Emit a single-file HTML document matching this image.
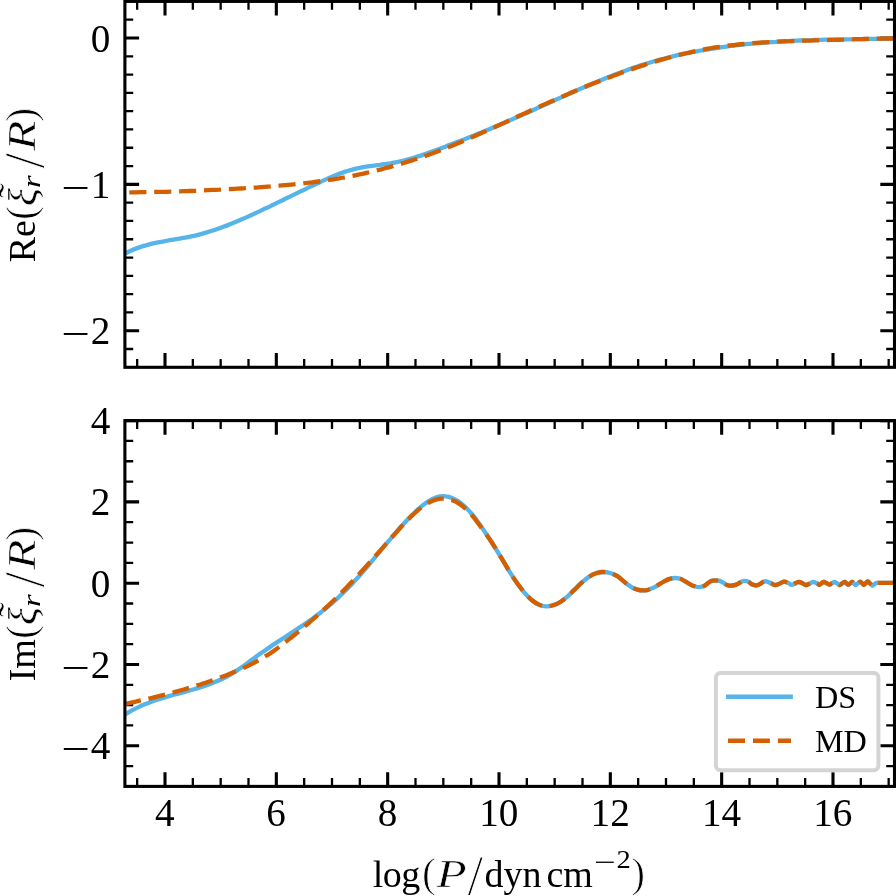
<!DOCTYPE html>
<html lang="en">
<head>
<meta charset="utf-8">
<title>Re and Im of radial displacement vs log pressure</title>
<style>
html,body{margin:0;padding:0;background:#fff;}
body{width:896px;height:896px;overflow:hidden;}
svg{display:block;}
</style>
</head>
<body>
<svg width="896" height="896" viewBox="0 0 896 896" font-family="'Liberation Serif', serif" fill="#000">
<rect x="0" y="0" width="896" height="896" fill="#fff"/>
<defs>
<clipPath id="c1"><rect x="124.9" y="1.4" width="769.6" height="365.90000000000003"/></clipPath>
<clipPath id="c2"><rect x="124.9" y="420.6" width="769.6" height="365.79999999999995"/></clipPath>
</defs>
<path d="M165.00,367.3v-14.2M165.00,1.4v14.2M276.33,367.3v-14.2M276.33,1.4v14.2M387.67,367.3v-14.2M387.67,1.4v14.2M499.00,367.3v-14.2M499.00,1.4v14.2M610.33,367.3v-14.2M610.33,1.4v14.2M721.67,367.3v-14.2M721.67,1.4v14.2M833.00,367.3v-14.2M833.00,1.4v14.2M124.9,37.99h14.2M894.5,37.99h-14.2M124.9,184.35h14.2M894.5,184.35h-14.2M124.9,330.71h14.2M894.5,330.71h-14.2" stroke="#000" stroke-width="3.1" fill="none"/>
<path d="M137.17,367.3v-8.3M137.17,1.4v8.3M192.83,367.3v-8.3M192.83,1.4v8.3M220.67,367.3v-8.3M220.67,1.4v8.3M248.50,367.3v-8.3M248.50,1.4v8.3M304.17,367.3v-8.3M304.17,1.4v8.3M332.00,367.3v-8.3M332.00,1.4v8.3M359.83,367.3v-8.3M359.83,1.4v8.3M415.50,367.3v-8.3M415.50,1.4v8.3M443.33,367.3v-8.3M443.33,1.4v8.3M471.17,367.3v-8.3M471.17,1.4v8.3M526.83,367.3v-8.3M526.83,1.4v8.3M554.67,367.3v-8.3M554.67,1.4v8.3M582.50,367.3v-8.3M582.50,1.4v8.3M638.17,367.3v-8.3M638.17,1.4v8.3M666.00,367.3v-8.3M666.00,1.4v8.3M693.83,367.3v-8.3M693.83,1.4v8.3M749.50,367.3v-8.3M749.50,1.4v8.3M777.33,367.3v-8.3M777.33,1.4v8.3M805.17,367.3v-8.3M805.17,1.4v8.3M860.83,367.3v-8.3M860.83,1.4v8.3M888.67,367.3v-8.3M888.67,1.4v8.3M124.9,349.00h8.3M894.5,349.00h-8.3M124.9,312.41h8.3M894.5,312.41h-8.3M124.9,294.12h8.3M894.5,294.12h-8.3M124.9,275.83h8.3M894.5,275.83h-8.3M124.9,257.53h8.3M894.5,257.53h-8.3M124.9,239.24h8.3M894.5,239.24h-8.3M124.9,220.94h8.3M894.5,220.94h-8.3M124.9,202.65h8.3M894.5,202.65h-8.3M124.9,166.06h8.3M894.5,166.06h-8.3M124.9,147.76h8.3M894.5,147.76h-8.3M124.9,129.47h8.3M894.5,129.47h-8.3M124.9,111.17h8.3M894.5,111.17h-8.3M124.9,92.88h8.3M894.5,92.88h-8.3M124.9,74.58h8.3M894.5,74.58h-8.3M124.9,56.29h8.3M894.5,56.29h-8.3M124.9,19.70h8.3M894.5,19.70h-8.3" stroke="#000" stroke-width="2.3" fill="none"/>
<path d="M165.00,786.4v-14.2M165.00,420.6v14.2M276.33,786.4v-14.2M276.33,420.6v14.2M387.67,786.4v-14.2M387.67,420.6v14.2M499.00,786.4v-14.2M499.00,420.6v14.2M610.33,786.4v-14.2M610.33,420.6v14.2M721.67,786.4v-14.2M721.67,420.6v14.2M833.00,786.4v-14.2M833.00,420.6v14.2M124.9,420.60h14.2M894.5,420.60h-14.2M124.9,501.89h14.2M894.5,501.89h-14.2M124.9,583.18h14.2M894.5,583.18h-14.2M124.9,664.47h14.2M894.5,664.47h-14.2M124.9,745.76h14.2M894.5,745.76h-14.2" stroke="#000" stroke-width="3.1" fill="none"/>
<path d="M137.17,786.4v-8.3M137.17,420.6v8.3M192.83,786.4v-8.3M192.83,420.6v8.3M220.67,786.4v-8.3M220.67,420.6v8.3M248.50,786.4v-8.3M248.50,420.6v8.3M304.17,786.4v-8.3M304.17,420.6v8.3M332.00,786.4v-8.3M332.00,420.6v8.3M359.83,786.4v-8.3M359.83,420.6v8.3M415.50,786.4v-8.3M415.50,420.6v8.3M443.33,786.4v-8.3M443.33,420.6v8.3M471.17,786.4v-8.3M471.17,420.6v8.3M526.83,786.4v-8.3M526.83,420.6v8.3M554.67,786.4v-8.3M554.67,420.6v8.3M582.50,786.4v-8.3M582.50,420.6v8.3M638.17,786.4v-8.3M638.17,420.6v8.3M666.00,786.4v-8.3M666.00,420.6v8.3M693.83,786.4v-8.3M693.83,420.6v8.3M749.50,786.4v-8.3M749.50,420.6v8.3M777.33,786.4v-8.3M777.33,420.6v8.3M805.17,786.4v-8.3M805.17,420.6v8.3M860.83,786.4v-8.3M860.83,420.6v8.3M888.67,786.4v-8.3M888.67,420.6v8.3M124.9,766.08h8.3M894.5,766.08h-8.3M124.9,725.43h8.3M894.5,725.43h-8.3M124.9,705.11h8.3M894.5,705.11h-8.3M124.9,684.79h8.3M894.5,684.79h-8.3M124.9,644.14h8.3M894.5,644.14h-8.3M124.9,623.82h8.3M894.5,623.82h-8.3M124.9,603.50h8.3M894.5,603.50h-8.3M124.9,562.86h8.3M894.5,562.86h-8.3M124.9,542.53h8.3M894.5,542.53h-8.3M124.9,522.21h8.3M894.5,522.21h-8.3M124.9,481.57h8.3M894.5,481.57h-8.3M124.9,461.24h8.3M894.5,461.24h-8.3M124.9,440.92h8.3M894.5,440.92h-8.3" stroke="#000" stroke-width="2.3" fill="none"/>
<g clip-path="url(#c1)" fill="none" stroke-width="4.3">
<path d="M122.0,255.2C123.0,254.7 126.0,253.0 128.0,252.0C130.0,251.0 132.0,250.2 134.0,249.3C136.0,248.5 138.0,247.8 140.0,247.1C142.0,246.4 144.0,245.8 146.0,245.3C148.0,244.7 150.0,244.2 152.0,243.7C154.0,243.2 156.0,242.8 158.0,242.4C160.0,242.0 162.0,241.6 164.0,241.3C166.0,240.9 168.0,240.6 170.0,240.2C172.0,239.9 174.0,239.6 176.0,239.2C178.0,238.9 180.0,238.6 182.0,238.2C184.0,237.8 186.0,237.5 188.0,237.1C190.0,236.7 192.0,236.2 194.0,235.8C196.0,235.3 198.0,234.8 200.0,234.3C202.0,233.8 204.0,233.2 206.0,232.6C208.0,232.0 210.0,231.4 212.0,230.7C214.0,230.1 216.0,229.4 218.0,228.7C220.0,228.0 222.0,227.3 224.0,226.5C226.0,225.8 228.0,225.0 230.0,224.2C232.0,223.4 234.0,222.6 236.0,221.8C238.0,220.9 240.0,220.1 242.0,219.2C244.0,218.4 246.0,217.5 248.0,216.6C250.0,215.7 252.0,214.8 254.0,213.9C256.0,212.9 258.0,212.0 260.0,211.1C262.0,210.1 264.0,209.2 266.0,208.2C268.0,207.3 270.0,206.3 272.0,205.3C274.0,204.4 276.0,203.4 278.0,202.4C280.0,201.5 282.0,200.5 284.0,199.5C286.0,198.5 288.0,197.6 290.0,196.6C292.0,195.6 294.0,194.6 296.0,193.6C298.0,192.7 300.0,191.7 302.0,190.7C304.0,189.8 306.0,188.8 308.0,187.8C310.0,186.9 312.0,185.9 314.0,185.0C316.0,184.0 318.0,183.1 320.0,182.2C322.0,181.2 324.0,180.3 326.0,179.4C328.0,178.5 330.0,177.6 332.0,176.8C334.0,175.9 336.0,175.1 338.0,174.3C340.0,173.5 342.0,172.8 344.0,172.1C346.0,171.4 348.0,170.8 350.0,170.2C352.0,169.6 354.0,169.1 356.0,168.6C358.0,168.2 360.0,167.8 362.0,167.4C364.0,167.0 366.0,166.7 368.0,166.4C370.0,166.1 372.0,165.8 374.0,165.6C376.0,165.3 378.0,165.0 380.0,164.8C382.0,164.5 384.0,164.2 386.0,164.0C388.0,163.7 390.0,163.4 392.0,163.0C394.0,162.7 396.0,162.3 398.0,161.9C400.0,161.5 402.0,161.0 404.0,160.5C406.0,160.0 408.0,159.5 410.0,158.9C412.0,158.3 414.0,157.7 416.0,157.1C418.0,156.4 420.0,155.8 422.0,155.1C424.0,154.4 426.0,153.7 428.0,153.0C430.0,152.3 432.0,151.6 434.0,150.9C436.0,150.1 438.0,149.4 440.0,148.7C442.0,147.9 444.0,147.2 446.0,146.4C448.0,145.7 450.0,144.9 452.0,144.1C454.0,143.4 456.0,142.6 458.0,141.8C460.0,141.0 462.0,140.2 464.0,139.5C466.0,138.7 468.0,137.9 470.0,137.1C472.0,136.3 474.0,135.5 476.0,134.6C478.0,133.8 480.0,133.0 482.0,132.2C484.0,131.4 486.0,130.5 488.0,129.7C490.0,128.9 492.0,128.0 494.0,127.2C496.0,126.3 498.0,125.5 500.0,124.6C502.0,123.8 504.0,122.9 506.0,122.0C508.0,121.2 510.0,120.3 512.0,119.4C514.0,118.6 516.0,117.7 518.0,116.8C520.0,115.9 522.0,115.0 524.0,114.1C526.0,113.2 528.0,112.4 530.0,111.5C532.0,110.6 534.0,109.7 536.0,108.8C538.0,107.9 540.0,106.9 542.0,106.0C544.0,105.1 546.0,104.2 548.0,103.3C550.0,102.4 552.0,101.5 554.0,100.6C556.0,99.7 558.0,98.8 560.0,97.9C562.0,97.0 564.0,96.1 566.0,95.2C568.0,94.3 570.0,93.4 572.0,92.5C574.0,91.6 576.0,90.8 578.0,89.9C580.0,89.0 582.0,88.1 584.0,87.3C586.0,86.4 588.0,85.6 590.0,84.7C592.0,83.9 594.0,83.0 596.0,82.2C598.0,81.3 600.0,80.5 602.0,79.7C604.0,78.9 606.0,78.1 608.0,77.3C610.0,76.5 612.0,75.7 614.0,74.9C616.0,74.2 618.0,73.4 620.0,72.7C622.0,71.9 624.0,71.2 626.0,70.5C628.0,69.7 630.0,69.0 632.0,68.3C634.0,67.6 636.0,67.0 638.0,66.3C640.0,65.7 642.0,65.0 644.0,64.4C646.0,63.8 648.0,63.1 650.0,62.5C652.0,62.0 654.0,61.4 656.0,60.8C658.0,60.2 660.0,59.7 662.0,59.2C664.0,58.6 666.0,58.1 668.0,57.6C670.0,57.1 672.0,56.6 674.0,56.1C676.0,55.7 678.0,55.2 680.0,54.7C682.0,54.3 684.0,53.9 686.0,53.4C688.0,53.0 690.0,52.6 692.0,52.2C694.0,51.8 696.0,51.4 698.0,51.0C700.0,50.7 702.0,50.3 704.0,50.0C706.0,49.6 708.0,49.3 710.0,49.0C712.0,48.6 714.0,48.3 716.0,48.0C718.0,47.7 720.0,47.4 722.0,47.1C724.0,46.9 726.0,46.6 728.0,46.3C730.0,46.1 732.0,45.8 734.0,45.6C736.0,45.3 738.0,45.1 740.0,44.9C742.0,44.7 744.0,44.4 746.0,44.2C748.0,44.0 750.0,43.8 752.0,43.6C754.0,43.5 756.0,43.3 758.0,43.1C760.0,42.9 762.0,42.8 764.0,42.6C766.0,42.5 768.0,42.3 770.0,42.2C772.0,42.0 774.0,41.9 776.0,41.8C778.0,41.6 780.0,41.5 782.0,41.4C784.0,41.3 786.0,41.2 788.0,41.1C790.0,41.0 792.0,40.9 794.0,40.8C796.0,40.7 798.0,40.6 800.0,40.5C802.0,40.4 804.0,40.4 806.0,40.3C808.0,40.2 810.0,40.1 812.0,40.1C814.0,40.0 816.0,40.0 818.0,39.9C820.0,39.8 822.0,39.8 824.0,39.7C826.0,39.7 828.0,39.6 830.0,39.6C832.0,39.6 834.0,39.5 836.0,39.5C838.0,39.4 840.0,39.4 842.0,39.4C844.0,39.3 846.0,39.3 848.0,39.3C850.0,39.2 852.0,39.2 854.0,39.2C856.0,39.1 858.0,39.1 860.0,39.1C862.0,39.1 864.0,39.0 866.0,39.0C868.0,39.0 870.0,39.0 872.0,38.9C874.0,38.9 876.0,38.9 878.0,38.8C880.0,38.8 882.0,38.8 884.0,38.8C886.0,38.7 888.0,38.7 890.0,38.7C892.0,38.6 895.0,38.6 896.0,38.6" stroke="#56B4E9"/>
<path d="M129.3,192.3C130.3,192.3 133.3,192.3 135.3,192.3C137.3,192.2 139.3,192.2 141.3,192.2C143.3,192.2 145.3,192.1 147.3,192.1C149.3,192.1 151.3,192.1 153.3,192.0C155.3,192.0 157.3,191.9 159.3,191.9C161.3,191.8 163.3,191.8 165.3,191.8C167.3,191.7 169.3,191.6 171.3,191.6C173.3,191.5 175.3,191.5 177.3,191.4C179.3,191.3 181.3,191.3 183.3,191.2C185.3,191.1 187.3,191.1 189.3,191.0C191.3,190.9 193.3,190.8 195.3,190.8C197.3,190.7 199.3,190.6 201.3,190.5C203.3,190.4 205.3,190.3 207.3,190.2C209.3,190.1 211.3,190.0 213.3,189.9C215.3,189.9 217.3,189.8 219.3,189.7C221.3,189.5 223.3,189.4 225.3,189.3C227.3,189.2 229.3,189.1 231.3,189.0C233.3,188.9 235.3,188.8 237.3,188.7C239.3,188.6 241.3,188.4 243.3,188.3C245.3,188.2 247.3,188.1 249.3,187.9C251.3,187.8 253.3,187.7 255.3,187.6C257.3,187.4 259.3,187.3 261.3,187.1C263.3,187.0 265.3,186.9 267.3,186.7C269.3,186.6 271.3,186.4 273.3,186.2C275.3,186.1 277.3,185.9 279.3,185.7C281.3,185.6 283.3,185.4 285.3,185.2C287.3,185.0 289.3,184.8 291.3,184.6C293.3,184.4 295.3,184.2 297.3,184.0C299.3,183.8 301.3,183.6 303.3,183.4C305.3,183.1 307.3,182.9 309.3,182.7C311.3,182.4 313.3,182.2 315.3,181.9C317.3,181.6 319.3,181.4 321.3,181.1C323.3,180.8 325.3,180.5 327.3,180.2C329.3,179.9 331.3,179.6 333.3,179.3C335.3,178.9 337.3,178.6 339.3,178.3C341.3,177.9 343.3,177.6 345.3,177.2C347.3,176.8 349.3,176.4 351.3,176.1C353.3,175.7 355.3,175.3 357.3,174.8C359.3,174.4 361.3,174.0 363.3,173.6C365.3,173.1 367.3,172.7 369.3,172.2C371.3,171.7 373.3,171.3 375.3,170.8C377.3,170.3 379.3,169.8 381.3,169.3C383.3,168.8 385.3,168.2 387.3,167.7C389.3,167.2 391.3,166.6 393.3,166.1C395.3,165.5 397.3,164.9 399.3,164.3C401.3,163.7 403.3,163.1 405.3,162.5C407.3,161.9 409.3,161.3 411.3,160.6C413.3,160.0 415.3,159.4 417.3,158.7C419.3,158.0 421.3,157.3 423.3,156.6C425.3,155.9 427.3,155.2 429.3,154.5C431.3,153.8 433.3,153.1 435.3,152.3C437.3,151.6 439.3,150.8 441.3,150.0C443.3,149.2 445.3,148.5 447.3,147.7C449.3,146.9 451.3,146.0 453.3,145.2C455.3,144.4 457.3,143.6 459.3,142.7C461.3,141.9 463.3,141.0 465.3,140.2C467.3,139.3 469.3,138.5 471.3,137.6C473.3,136.7 475.3,135.8 477.3,135.0C479.3,134.1 481.3,133.2 483.3,132.3C485.3,131.4 487.3,130.5 489.3,129.6C491.3,128.7 493.3,127.8 495.3,126.8C497.3,125.9 499.3,125.0 501.3,124.1C503.3,123.2 505.3,122.3 507.3,121.3C509.3,120.4 511.3,119.5 513.3,118.6C515.3,117.7 517.3,116.7 519.3,115.8C521.3,114.9 523.3,114.0 525.3,113.1C527.3,112.2 529.3,111.2 531.3,110.3C533.3,109.4 535.3,108.5 537.3,107.6C539.3,106.7 541.3,105.8 543.3,104.9C545.3,104.0 547.3,103.1 549.3,102.2C551.3,101.3 553.3,100.5 555.3,99.6C557.3,98.7 559.3,97.8 561.3,97.0C563.3,96.1 565.3,95.2 567.3,94.4C569.3,93.5 571.3,92.6 573.3,91.8C575.3,91.0 577.3,90.1 579.3,89.3C581.3,88.4 583.3,87.6 585.3,86.8C587.3,86.0 589.3,85.2 591.3,84.3C593.3,83.5 595.3,82.7 597.3,81.9C599.3,81.1 601.3,80.4 603.3,79.6C605.3,78.8 607.3,78.0 609.3,77.3C611.3,76.5 613.3,75.8 615.3,75.0C617.3,74.3 619.3,73.5 621.3,72.8C623.3,72.1 625.3,71.4 627.3,70.7C629.3,70.0 631.3,69.3 633.3,68.6C635.3,67.9 637.3,67.2 639.3,66.6C641.3,65.9 643.3,65.3 645.3,64.6C647.3,64.0 649.3,63.3 651.3,62.7C653.3,62.1 655.3,61.5 657.3,60.9C659.3,60.3 661.3,59.7 663.3,59.2C665.3,58.6 667.3,58.0 669.3,57.5C671.3,56.9 673.3,56.4 675.3,55.9C677.3,55.4 679.3,54.9 681.3,54.4C683.3,53.9 685.3,53.4 687.3,53.0C689.3,52.5 691.3,52.1 693.3,51.6C695.3,51.2 697.3,50.8 699.3,50.4C701.3,50.0 703.3,49.6 705.3,49.2C707.3,48.8 709.3,48.5 711.3,48.2C713.3,47.8 715.3,47.5 717.3,47.2C719.3,46.9 721.3,46.6 723.3,46.3C725.3,46.0 727.3,45.8 729.3,45.5C731.3,45.3 733.3,45.0 735.3,44.8C737.3,44.6 739.3,44.4 741.3,44.2C743.3,44.0 745.3,43.8 747.3,43.6C749.3,43.4 751.3,43.3 753.3,43.1C755.3,43.0 757.3,42.8 759.3,42.7C761.3,42.6 763.3,42.4 765.3,42.3C767.3,42.2 769.3,42.1 771.3,42.0C773.3,41.9 775.3,41.8 777.3,41.7C779.3,41.6 781.3,41.5 783.3,41.4C785.3,41.3 787.3,41.2 789.3,41.2C791.3,41.1 793.3,41.0 795.3,41.0C797.3,40.9 799.3,40.8 801.3,40.8C803.3,40.7 805.3,40.7 807.3,40.6C809.3,40.6 811.3,40.5 813.3,40.4C815.3,40.4 817.3,40.3 819.3,40.3C821.3,40.2 823.3,40.2 825.3,40.1C827.3,40.1 829.3,40.0 831.3,39.9C833.3,39.9 835.3,39.8 837.3,39.8C839.3,39.7 841.3,39.6 843.3,39.6C845.3,39.5 847.3,39.5 849.3,39.4C851.3,39.3 853.3,39.3 855.3,39.2C857.3,39.2 859.3,39.1 861.3,39.1C863.3,39.0 865.3,39.0 867.3,38.9C869.3,38.9 871.3,38.8 873.3,38.8C875.3,38.7 877.3,38.7 879.3,38.6C881.3,38.6 883.3,38.6 885.3,38.6C887.3,38.5 889.5,38.5 891.3,38.5C893.1,38.5 895.2,38.4 896.0,38.4" stroke="#D35F00" stroke-dasharray="17.1 7.8"/>
</g>
<g clip-path="url(#c2)" fill="none" stroke-width="4.3">
<path d="M122.0,716.5C123.0,715.9 126.0,713.9 128.0,712.7C130.0,711.5 132.0,710.4 134.0,709.4C136.0,708.3 138.0,707.4 140.0,706.4C142.0,705.5 144.0,704.7 146.0,703.8C148.0,703.0 150.0,702.3 152.0,701.5C154.0,700.8 156.0,700.1 158.0,699.5C160.0,698.8 162.0,698.2 164.0,697.6C166.0,697.0 168.0,696.5 170.0,695.9C172.0,695.3 174.0,694.8 176.0,694.2C178.0,693.7 180.0,693.2 182.0,692.6C184.0,692.1 186.0,691.6 188.0,691.0C190.0,690.5 192.0,689.9 194.0,689.3C196.0,688.7 198.0,688.1 200.0,687.5C202.0,686.9 204.0,686.2 206.0,685.5C208.0,684.8 210.0,684.1 212.0,683.3C214.0,682.5 216.0,681.7 218.0,680.8C220.0,679.9 222.0,679.0 224.0,678.0C226.0,677.0 228.0,675.9 230.0,674.8C232.0,673.6 234.0,672.4 236.0,671.1C238.0,669.8 240.0,668.4 242.0,667.0C244.0,665.6 246.0,664.1 248.0,662.6C250.0,661.1 252.0,659.6 254.0,658.2C256.0,656.7 258.0,655.2 260.0,653.8C262.0,652.4 264.0,651.0 266.0,649.7C268.0,648.3 270.0,646.9 272.0,645.6C274.0,644.2 276.0,642.9 278.0,641.6C280.0,640.3 282.0,639.0 284.0,637.7C286.0,636.4 288.0,635.1 290.0,633.8C292.0,632.5 294.0,631.2 296.0,629.9C298.0,628.5 300.0,627.2 302.0,625.9C304.0,624.5 306.0,623.1 308.0,621.8C310.0,620.4 312.0,618.9 314.0,617.5C316.0,616.0 318.0,614.5 320.0,613.0C322.0,611.4 324.0,609.9 326.0,608.2C328.0,606.6 330.0,604.9 332.0,603.2C334.0,601.4 336.0,599.6 338.0,597.8C340.0,595.9 342.0,594.0 344.0,592.0C346.0,590.1 348.0,588.0 350.0,586.0C352.0,583.9 354.0,581.7 356.0,579.6C358.0,577.4 360.0,575.1 362.0,572.8C364.0,570.5 366.0,568.2 368.0,565.8C370.0,563.5 372.0,561.1 374.0,558.7C376.0,556.3 378.0,553.9 380.0,551.4C382.0,549.0 384.0,546.6 386.0,544.2C388.0,541.8 390.0,539.4 392.0,537.1C394.0,534.7 396.0,532.4 398.0,530.1C400.0,527.9 402.0,525.6 404.0,523.4C406.0,521.3 408.0,519.1 410.0,517.1C412.0,515.1 414.0,513.1 416.0,511.2C418.0,509.4 420.0,507.6 422.0,505.9C424.0,504.3 426.0,502.8 428.0,501.5C430.0,500.2 432.0,499.1 434.0,498.3C436.0,497.4 438.0,496.7 440.0,496.4C442.0,496.1 444.0,496.0 446.0,496.3C448.0,496.5 450.0,497.1 452.0,497.9C454.0,498.7 456.0,499.8 458.0,501.1C460.0,502.4 462.0,504.0 464.0,505.8C466.0,507.6 468.0,509.7 470.0,511.9C472.0,514.2 472.5,514.4 476.0,519.3C479.5,524.1 486.3,534.0 491.0,541.2C495.7,548.4 500.8,557.0 504.0,562.3C507.2,567.6 508.1,569.3 510.3,572.9C512.5,576.5 515.0,580.3 517.4,583.6C519.8,586.9 522.2,590.2 524.6,592.9C527.0,595.6 529.3,598.0 531.7,600.0C534.1,602.0 536.5,603.5 538.9,604.6C541.3,605.7 543.6,606.3 546.0,606.4C548.4,606.5 550.7,606.0 553.1,605.3C555.5,604.6 557.9,603.5 560.3,602.0C562.7,600.5 565.0,598.7 567.4,596.6C569.8,594.5 572.2,591.9 574.6,589.6C577.0,587.3 579.3,584.7 581.7,582.6C584.1,580.5 586.5,578.5 588.9,576.9C591.3,575.3 593.6,574.1 596.0,573.3C598.4,572.5 600.7,572.0 603.1,572.0C605.5,572.0 607.9,572.3 610.3,573.0C612.7,573.7 615.5,575.1 617.4,576.2C619.2,577.3 619.8,578.1 621.4,579.4C623.0,580.6 624.9,582.4 626.7,583.7C628.5,585.1 630.3,586.5 632.1,587.5C633.9,588.5 635.6,589.1 637.4,589.6C639.2,590.1 641.0,590.4 642.8,590.4C644.6,590.4 646.3,590.2 648.1,589.8C649.9,589.3 651.7,588.6 653.5,587.7C655.3,586.8 657.1,585.6 658.9,584.5C660.7,583.4 662.4,582.2 664.2,581.3C666.0,580.4 667.8,579.4 669.6,578.9C671.4,578.4 673.1,578.0 674.9,578.0C676.7,578.0 678.5,578.2 680.3,578.8C682.1,579.4 683.8,580.6 685.6,581.6C687.4,582.6 689.2,583.9 691.0,584.8C692.8,585.7 695.0,586.4 696.4,586.8C697.8,587.2 698.4,587.2 699.6,587.1C700.9,587.0 702.5,586.7 703.9,586.1C705.3,585.5 706.6,584.2 707.8,583.3C709.0,582.4 709.8,581.4 711.1,580.9C712.4,580.4 714.0,580.4 715.4,580.4C716.8,580.4 718.4,580.5 719.7,580.9C721.0,581.3 722.1,582.0 723.3,582.7C724.5,583.4 725.6,584.4 726.9,584.9C728.2,585.4 729.7,585.7 731.1,585.7C732.5,585.7 734.1,585.3 735.4,584.9C736.7,584.5 737.9,583.7 739.0,583.1C740.1,582.5 740.9,581.8 741.9,581.4C742.9,581.0 744.0,580.9 745.1,580.9C746.2,580.9 747.3,581.1 748.3,581.6C749.3,582.1 750.1,583.2 751.1,583.8C752.1,584.4 753.1,584.7 754.0,585.0C754.9,585.3 755.5,585.5 756.5,585.4C757.5,585.2 758.6,584.7 759.7,584.1C760.8,583.5 761.9,582.5 763.0,582.0C764.1,581.5 765.1,581.1 766.4,581.3C767.7,581.5 769.3,582.5 770.7,583.1C772.1,583.7 773.6,584.9 775.0,585.0C776.4,585.1 777.8,584.3 779.3,583.8C780.8,583.2 782.5,581.9 783.9,581.7C785.3,581.5 786.6,582.2 787.9,582.7C789.2,583.2 790.5,584.8 791.8,584.9C793.1,585.0 794.5,583.6 795.7,583.1C796.9,582.6 797.7,582.0 798.9,582.0C800.1,582.0 801.7,582.9 802.9,583.4C804.1,583.9 804.9,585.0 806.1,585.0C807.3,585.0 808.8,583.9 810.0,583.4C811.2,582.9 812.0,582.0 813.2,582.0C814.4,582.0 816.1,582.9 817.1,583.4C818.1,583.9 818.7,585.0 819.5,584.9C820.3,584.8 821.4,583.3 822.1,582.8C822.8,582.3 823.1,581.9 823.9,582.0C824.7,582.1 825.8,582.9 826.8,583.3C827.8,583.7 828.7,584.5 829.6,584.5C830.5,584.5 831.2,583.6 832.0,583.2C832.8,582.8 833.5,582.0 834.3,582.0C835.1,582.0 836.1,582.9 837.0,583.4C837.9,583.9 838.7,585.0 839.6,585.0C840.5,585.0 841.4,583.9 842.2,583.4C843.0,582.9 843.9,582.0 844.6,582.0C845.3,582.0 845.8,582.8 846.4,583.3C847.0,583.8 847.5,584.7 848.1,584.7C848.8,584.7 849.6,583.8 850.3,583.3C851.0,582.8 851.8,582.0 852.4,582.0C853.0,582.0 853.5,583.0 854.0,583.5C854.5,584.0 854.9,585.2 855.6,585.2C856.3,585.2 857.2,583.9 858.0,583.3C858.8,582.7 859.6,581.6 860.3,581.6C861.0,581.6 861.5,582.7 862.1,583.2C862.7,583.8 863.3,584.9 863.9,584.9C864.5,584.9 865.2,583.6 865.9,583.0C866.5,582.4 867.1,581.2 867.8,581.3C868.5,581.4 869.3,582.8 870.1,583.5C870.9,584.2 871.6,585.5 872.4,585.6C873.1,585.7 873.9,584.5 874.6,584.0C875.3,583.5 875.8,583.0 876.7,582.8C877.6,582.6 876.8,582.9 880.0,582.9C883.2,582.9 893.3,582.9 896.0,582.9" stroke="#56B4E9"/>
<path d="M123.0,704.5C124.0,704.2 127.0,703.6 129.0,703.1C131.0,702.7 133.0,702.3 135.0,701.8C137.0,701.4 139.0,700.9 141.0,700.4C143.0,700.0 145.0,699.5 147.0,699.0C149.0,698.6 151.0,698.1 153.0,697.6C155.0,697.1 157.0,696.6 159.0,696.1C161.0,695.6 163.0,695.1 165.0,694.6C167.0,694.1 169.0,693.6 171.0,693.0C173.0,692.5 175.0,691.9 177.0,691.4C179.0,690.8 181.0,690.3 183.0,689.7C185.0,689.1 187.0,688.5 189.0,687.9C191.0,687.3 193.0,686.7 195.0,686.1C197.0,685.5 199.0,684.8 201.0,684.2C203.0,683.5 205.0,682.9 207.0,682.2C209.0,681.5 211.0,680.8 213.0,680.1C215.0,679.4 217.0,678.7 219.0,678.0C221.0,677.2 223.0,676.5 225.0,675.7C227.0,674.9 229.0,674.2 231.0,673.3C233.0,672.5 235.0,671.7 237.0,670.9C239.0,670.0 241.0,669.1 243.0,668.2C245.0,667.3 247.0,666.4 249.0,665.4C251.0,664.4 253.0,663.4 255.0,662.3C257.0,661.2 259.0,660.1 261.0,659.0C263.0,657.8 265.0,656.6 267.0,655.3C269.0,654.1 271.0,652.8 273.0,651.4C275.0,650.0 277.0,648.6 279.0,647.1C281.0,645.6 283.0,644.1 285.0,642.5C287.0,640.9 289.0,639.3 291.0,637.7C293.0,636.1 295.0,634.5 297.0,632.9C299.0,631.2 301.0,629.5 303.0,627.9C305.0,626.2 307.0,624.5 309.0,622.8C311.0,621.1 313.0,619.3 315.0,617.5C317.0,615.8 319.0,614.0 321.0,612.2C323.0,610.4 325.0,608.5 327.0,606.7C329.0,604.8 331.0,602.9 333.0,601.0C335.0,599.1 337.0,597.1 339.0,595.1C341.0,593.2 343.0,591.1 345.0,589.1C347.0,587.0 349.0,585.0 351.0,582.8C353.0,580.7 355.0,578.6 357.0,576.4C359.0,574.2 361.0,572.0 363.0,569.8C365.0,567.6 367.0,565.4 369.0,563.1C371.0,560.9 373.0,558.6 375.0,556.4C377.0,554.1 379.0,551.8 381.0,549.6C383.0,547.3 385.0,545.0 387.0,542.8C389.0,540.5 391.0,538.2 393.0,536.0C395.0,533.8 397.0,531.5 399.0,529.3C401.0,527.1 403.0,524.9 405.0,522.8C407.0,520.7 409.0,518.6 411.0,516.6C413.0,514.7 415.0,512.8 417.0,511.1C419.0,509.3 421.0,507.7 423.0,506.3C425.0,504.8 427.0,503.5 429.0,502.5C431.0,501.4 433.0,500.5 435.0,499.9C437.0,499.2 439.0,498.8 441.0,498.6C443.0,498.5 445.0,498.5 447.0,498.8C449.0,499.1 451.0,499.7 453.0,500.5C455.0,501.3 457.0,502.3 459.0,503.6C461.0,504.9 463.0,506.4 465.0,508.2C467.0,510.0 469.1,512.1 471.0,514.3C472.9,516.4 473.1,516.6 476.4,521.0C479.7,525.5 486.4,534.3 491.0,541.2C495.6,548.1 500.8,557.0 504.0,562.3C507.2,567.6 508.1,569.3 510.3,572.9C512.5,576.5 515.0,580.3 517.4,583.6C519.8,586.9 522.2,590.2 524.6,592.9C527.0,595.6 529.3,598.0 531.7,600.0C534.1,602.0 536.5,603.5 538.9,604.6C541.3,605.7 543.6,606.3 546.0,606.4C548.4,606.5 550.7,606.0 553.1,605.3C555.5,604.6 557.9,603.5 560.3,602.0C562.7,600.5 565.0,598.7 567.4,596.6C569.8,594.5 572.2,591.9 574.6,589.6C577.0,587.3 579.3,584.7 581.7,582.6C584.1,580.5 586.5,578.5 588.9,576.9C591.3,575.3 593.6,574.1 596.0,573.3C598.4,572.5 600.7,572.0 603.1,572.0C605.5,572.0 607.9,572.3 610.3,573.0C612.7,573.7 615.5,575.1 617.4,576.2C619.2,577.3 619.8,578.1 621.4,579.4C623.0,580.6 624.9,582.4 626.7,583.7C628.5,585.1 630.3,586.5 632.1,587.5C633.9,588.5 635.6,589.1 637.4,589.6C639.2,590.1 641.0,590.4 642.8,590.4C644.6,590.4 646.3,590.2 648.1,589.8C649.9,589.3 651.7,588.6 653.5,587.7C655.3,586.8 657.1,585.6 658.9,584.5C660.7,583.4 662.4,582.2 664.2,581.3C666.0,580.4 667.8,579.4 669.6,578.9C671.4,578.4 673.1,578.0 674.9,578.0C676.7,578.0 678.5,578.2 680.3,578.8C682.1,579.4 683.8,580.6 685.6,581.6C687.4,582.6 689.2,583.9 691.0,584.8C692.8,585.7 695.0,586.4 696.4,586.8C697.8,587.2 698.4,587.2 699.6,587.1C700.9,587.0 702.5,586.7 703.9,586.1C705.3,585.5 706.6,584.2 707.8,583.3C709.0,582.4 709.8,581.4 711.1,580.9C712.4,580.4 714.0,580.4 715.4,580.4C716.8,580.4 718.4,580.5 719.7,580.9C721.0,581.3 722.1,582.0 723.3,582.7C724.5,583.4 725.6,584.4 726.9,584.9C728.2,585.4 729.7,585.7 731.1,585.7C732.5,585.7 734.1,585.3 735.4,584.9C736.7,584.5 737.9,583.7 739.0,583.1C740.1,582.5 740.9,581.8 741.9,581.4C742.9,581.0 744.0,580.9 745.1,580.9C746.2,580.9 747.3,581.1 748.3,581.6C749.3,582.1 750.1,583.2 751.1,583.8C752.1,584.4 753.1,584.7 754.0,585.0C754.9,585.3 755.5,585.5 756.5,585.4C757.5,585.2 758.6,584.7 759.7,584.1C760.8,583.5 761.9,582.5 763.0,582.0C764.1,581.5 765.1,581.1 766.4,581.3C767.7,581.5 769.3,582.5 770.7,583.1C772.1,583.7 773.6,584.9 775.0,585.0C776.4,585.1 777.8,584.3 779.3,583.8C780.8,583.2 782.5,581.9 783.9,581.7C785.3,581.5 786.6,582.2 787.9,582.7C789.2,583.2 790.5,584.8 791.8,584.9C793.1,585.0 794.5,583.6 795.7,583.1C796.9,582.6 797.7,582.0 798.9,582.0C800.1,582.0 801.7,582.9 802.9,583.4C804.1,583.9 804.9,585.0 806.1,585.0C807.3,585.0 808.8,583.9 810.0,583.4C811.2,582.9 812.0,582.0 813.2,582.0C814.4,582.0 816.1,582.9 817.1,583.4C818.1,583.9 818.7,585.0 819.5,584.9C820.3,584.8 821.4,583.3 822.1,582.8C822.8,582.3 823.1,581.9 823.9,582.0C824.7,582.1 825.8,582.9 826.8,583.3C827.8,583.7 828.7,584.5 829.6,584.5C830.5,584.5 831.2,583.6 832.0,583.2C832.8,582.8 833.5,582.0 834.3,582.0C835.1,582.0 836.1,582.9 837.0,583.4C837.9,583.9 838.7,585.0 839.6,585.0C840.5,585.0 841.4,583.9 842.2,583.4C843.0,582.9 843.9,582.0 844.6,582.0C845.3,582.0 845.8,582.8 846.4,583.3C847.0,583.8 847.5,584.7 848.1,584.7C848.8,584.7 849.6,583.8 850.3,583.3C851.0,582.8 851.8,582.0 852.4,582.0C853.0,582.0 853.5,583.0 854.0,583.5C854.5,584.0 854.9,585.2 855.6,585.2C856.3,585.2 857.2,583.9 858.0,583.3C858.8,582.7 859.6,581.6 860.3,581.6C861.0,581.6 861.5,582.7 862.1,583.2C862.7,583.8 863.3,584.9 863.9,584.9C864.5,584.9 865.2,583.6 865.9,583.0C866.5,582.4 867.1,581.2 867.8,581.3C868.5,581.4 869.3,582.8 870.1,583.5C870.9,584.2 871.6,585.5 872.4,585.6C873.1,585.7 873.9,584.5 874.6,584.0C875.3,583.5 875.8,583.0 876.7,582.8C877.6,582.6 876.8,582.9 880.0,582.9C883.2,582.9 893.3,582.9 896.0,582.9" stroke="#D35F00" stroke-dasharray="17.1 7.8" stroke-dashoffset="-1.2"/>
</g>
<rect x="124.9" y="1.4" width="769.6" height="365.90000000000003" fill="none" stroke="#000" stroke-width="3.1"/>
<rect x="124.9" y="420.6" width="769.6" height="365.79999999999995" fill="none" stroke="#000" stroke-width="3.1"/>
<text x="110.30" y="51.59" font-size="39.2" text-anchor="end">0</text>
<text x="110.30" y="197.95" font-size="39.2" text-anchor="end">1</text>
<text transform="translate(61.25,200.95) scale(1.3,1)" font-size="39.2">−</text>
<text x="110.30" y="344.31" font-size="39.2" text-anchor="end">2</text>
<text transform="translate(61.25,347.31) scale(1.3,1)" font-size="39.2">−</text>
<text x="110.30" y="434.20" font-size="39.2" text-anchor="end">4</text>
<text x="110.30" y="515.49" font-size="39.2" text-anchor="end">2</text>
<text x="110.30" y="596.78" font-size="39.2" text-anchor="end">0</text>
<text x="110.30" y="678.07" font-size="39.2" text-anchor="end">2</text>
<text transform="translate(61.25,681.07) scale(1.3,1)" font-size="39.2">−</text>
<text x="110.30" y="759.36" font-size="39.2" text-anchor="end">4</text>
<text transform="translate(61.25,762.36) scale(1.3,1)" font-size="39.2">−</text>
<text x="164.80" y="825.60" font-size="39.2" text-anchor="middle">4</text>
<text x="276.13" y="825.60" font-size="39.2" text-anchor="middle">6</text>
<text x="387.47" y="825.60" font-size="39.2" text-anchor="middle">8</text>
<text x="498.80" y="825.60" font-size="39.2" text-anchor="middle">10</text>
<text x="610.13" y="825.60" font-size="39.2" text-anchor="middle">12</text>
<text x="721.47" y="825.60" font-size="39.2" text-anchor="middle">14</text>
<text x="832.80" y="825.60" font-size="39.2" text-anchor="middle">16</text>
<text x="372.70" y="886.80" font-size="38.0" letter-spacing="-0.5">log</text>
<text x="422.01" y="886.80" font-size="42.2" stroke="#fff" stroke-width="0.8">(</text>
<text transform="translate(436.40,886.80) scale(1.26,1)" font-size="39.2" font-style="italic" stroke="#fff" stroke-width="0.5">P</text>
<text x="467.60" y="895.40" font-size="56.0" stroke="#fff" stroke-width="0.9">/</text>
<text x="484.40" y="886.80" font-size="38.0">dyn</text>
<text x="546.40" y="886.80" font-size="38.0">cm</text>
<text transform="translate(594.08,870.60) scale(1.42,1)" font-size="27">−</text>
<text transform="translate(616.40,867.90) scale(1.12,1)" font-size="25.5">2</text>
<text x="631.03" y="886.80" font-size="42.2" stroke="#fff" stroke-width="0.8">)</text>
<g transform="translate(35.4,261.7) rotate(-90)">
<text x="-0.60" y="0.00" font-size="38.0">Re</text>
<text x="41.71" y="0.00" font-size="42.2" stroke="#fff" stroke-width="0.8">(</text>
<text transform="translate(55.62,0.50) scale(1.06,1)" font-size="39.2" font-style="italic" stroke="#fff" stroke-width="0.3">ξ</text>
<text transform="translate(63.60,-10.60) scale(1.2,1)" font-size="38" stroke="#fff" stroke-width="0.5">˜</text>
<text transform="translate(73.61,4.20) scale(1.3,1)" font-size="24.9" font-style="italic">r</text>
<text x="93.10" y="8.60" font-size="56.0" stroke="#fff" stroke-width="0.9">/</text>
<text transform="translate(110.90,0.00) scale(1.26,1)" font-size="39.2" font-style="italic" stroke="#fff" stroke-width="0.5">R</text>
<text x="140.03" y="0.00" font-size="42.2" stroke="#fff" stroke-width="0.8">)</text>
</g>
<g transform="translate(35.4,680.7) rotate(-90)">
<text x="-0.60" y="0.00" font-size="38.0">Im</text>
<text x="41.71" y="0.00" font-size="42.2" stroke="#fff" stroke-width="0.8">(</text>
<text transform="translate(55.62,0.50) scale(1.06,1)" font-size="39.2" font-style="italic" stroke="#fff" stroke-width="0.3">ξ</text>
<text transform="translate(63.60,-10.60) scale(1.2,1)" font-size="38" stroke="#fff" stroke-width="0.5">˜</text>
<text transform="translate(73.61,4.20) scale(1.3,1)" font-size="24.9" font-style="italic">r</text>
<text x="93.10" y="8.60" font-size="56.0" stroke="#fff" stroke-width="0.9">/</text>
<text transform="translate(110.90,0.00) scale(1.26,1)" font-size="39.2" font-style="italic" stroke="#fff" stroke-width="0.5">R</text>
<text x="140.03" y="0.00" font-size="42.2" stroke="#fff" stroke-width="0.8">)</text>
</g>
<rect x="715.9" y="673.1" width="162.5" height="97.1" rx="4.6" ry="4.6" fill="#fff" stroke="#d4d4d4" stroke-width="4"/>
<path d="M726,696.7H792.9" stroke="#56B4E9" stroke-width="4.4" fill="none"/>
<path d="M728,740.8H745M753,740.8H769.9M777.9,740.8H791" stroke="#D35F00" stroke-width="4.4" fill="none"/>
<text x="814.9" y="707.5" font-size="32.2">DS</text>
<text x="815.0" y="751.7" font-size="32.2">MD</text>
</svg>
</body>
</html>
